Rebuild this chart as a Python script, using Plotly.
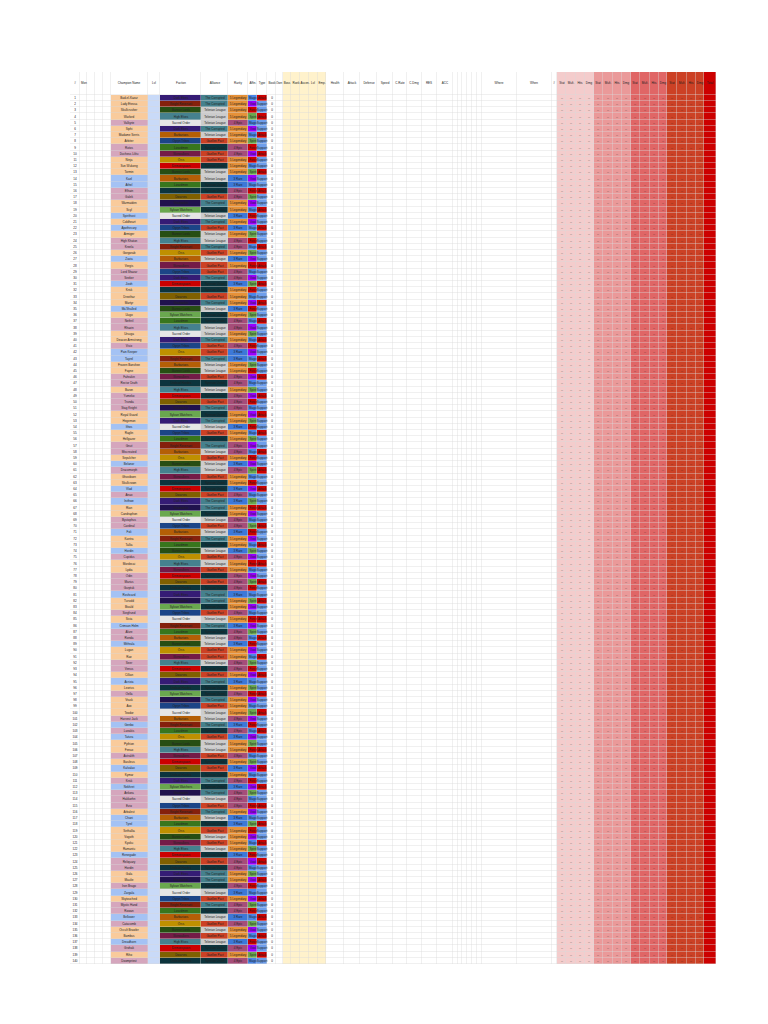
import plotly.graph_objects as go

names = ["Bad-el-Kazar","Lady Etessa","Skullcrusher","Warlord","Valkyrie","Siphi","Madame Serris","Arbiter","Rotos","Duchess Lilitu",
"Ninja","Sun Wukong","Tormin","Kael","Athel","Elhain","Galek","Warmaiden","Scyl","Spirithost",
"Coldheart","Apothecary","Armiger","High Khatun","Kreela","Gorgorab","Zavia","Vergis","Lord Shazar","Seeker",
"Jizoh","Krisk","Drexthar","Martyr","Ma'Shalled","Uugo","Nethril","Rhazin","Ursuga","Deacon Armstrong",
"Visix","Pain Keeper","Tayrel","Frozen Banshee","Fayne","Fahrakin","Rector Drath","Baron","Yumeko","Trunda",
"Stag Knight","Royal Guard","Hegemon","Ithos","Raglin","Hellgazer","Gnut","Miscreated","Sepulcher","Belanor",
"Dracomorph","Ghostborn","Skullcrown","Vlad","Anax","Inithwe","Rian","Candraphon","Bystophus","Cardinal",
"Foli","Kantra","Tallia","Hordin","Cupidus","Mordecai","Lydia","Odin","Marius","Gurptuk",
"Roshcard","Turvold","Bivald","Siegfrund","Sicia","Crimson Helm","Alure","Ronda","Mithrala","Lugan",
"Rae","Seer","Venus","Cillian","Acrizia","Leorius","Oella","Vrask","Aox","Teodor",
"Harvest Jack","Genbo","Lanakis","Tatura","Pythion","Fenax","Astralith","Basileus","Kalvalax","Kymar",
"Krisk","Nekhret","Ankora","Hakkorhn","Ezio","Arbalest","Chani","Tyrel","Sethallia","Vogoth",
"Kyoku","Ramantu","Renegade","Reliquary","Hordin","Gala","Maulie","Iron Brago","Zargala","Skytouched",
"Mystic Hand","Rowan","Bellower","Catacomb","Occult Brawler","Bambus","Dreadhorn","Grohak","Riho","Doompriest",
"Lamasu","Mausoleum","Geomancer","Fortus","Shamael"]
rarity = list("LLLLELLLEELLLRREELLRLRLEELRLEERLLLRLEELLERRLLEELEEELLRLLEELRELLRERLLEERLLRELLEEERLLELREERLLEELRLELLLERERLLELRLEREEELRRLLLLREELLERLEERELLRELE")
faction = [0,1,2,3,4,0,5,6,7,8,9,10,2,5,7,11,12,13,14,4,0,6,2,3,1,9,5,8,6,0,10,11,12,13,2,14,7,3,4,0,6,9,1,5,2,8,11,3,10,12,13,14,0,4,6,7,1,5,9,2,3,8,11,10,12,0,13,14,4,6,5,1,7,2,9,3,8,10,12,11,0,13,14,6,4,1,7,5,2,9,8,3,10,12,0,11,14,13,6,4,5,1,7,9,2,3,8,10,12,11,0,14,13,4,6,1,5,7,9,2,8,3,10,12,11,0,13,14,4,6,1,7,5,9,2,8,3,10,12,11,0,5,2]
affinity = list("MVFSMVMSFVFMSVMFSVMFVMSFMSVFMVSFMVFSMVSMFVMSFVMSVFMVSFMSVMFVSMFVMSFVMSFVMSVFMVSFMSVMFVSMFVMSFVMSFVMSVFMVSFMSVMFVSMFVMSFVMSFVMSVFMVSFMSVMFVSMFVMSFVM")
faction_names = ["Dark Elves","Knight Revenant","Banner Lords","High Elves","Sacred Order","Barbarians","Ogryn Tribes","Lizardmen","Skinwalkers","Orcs","Demonspawn","Undead Hordes","Dwarves","Shadowkin","Sylvan Watchers"]
alliance_of = ["The Corrupted","The Corrupted","Telerian League","Telerian League","Telerian League","Telerian League","Gaellen Pact","Nyresan Union","Gaellen Pact","Gaellen Pact","Nyresan Union","Nyresan Union","Gaellen Pact","The Corrupted","Nyresan Union"]
rarity_names = {"L":"5 Legendary","E":"4 Epic","R":"3 Rare"}
aff_names = {"M":"Magic","V":"Void","F":"Force","S":"Spirit"}
headers = ["#","Mon","","","","Champion Name","Lvl","Faction","Alliance","Rarity","Affin.","Type","Book","Own",
           "Boss","Rank","Ascen.","Lvl","Emp.","Health","Attack","Defense","Speed","C.Rate","C.Dmg","RES","ACC",
           "","","","","","","Where","When","#",
           "Stat","Mult.","Hits","Dmg","Stat","Mult.","Hits","Dmg",
           "Stat","Mult.","Hits","Dmg","Stat","Mult.","Hits","Dmg","Total"]
widths = [10,8,8,8,8,38,13,42,28,20,10,10,9,7,9,9,9,9,9,18,17,17,16,15,15,16,16,5,5,5,5,5,5,36,36,5,
          10,10,9,9,10,10,9,9,10,10,9,9,10,10,9,9,12]

N = min(len(names), len(rarity), len(faction), len(affinity))
rar_col = {"L":"#f9cb9c","E":"#d5a6bd","R":"#a4c2f4"}
rar_fill = {"L":"#e69138","E":"#a64d79","R":"#3c78d8"}
fac_col = ["#351c75","#85200c","#274e13","#45818e","#e6e6e6","#b45f06","#1c4587","#38761d","#741b47","#bf9000","#cc0000","#0c343d","#7f6000","#20124d","#6aa84f"]
ally_col = {"The Corrupted":"#45818e","Telerian League":"#cccccc","Gaellen Pact":"#cc4125","Nyresan Union":"#0c343d"}
aff_col = {"M":"#4a86e8","V":"#9900ff","F":"#cc0000","S":"#6aa84f"}

cols, fills = [], []
def add(vals, fill):
    cols.append(vals); fills.append(fill if isinstance(fill, list) else [fill]*N)

add([str(i+1) for i in range(N)], "#ffffff")
for _ in range(4): add([""]*N, "#ffffff")
add(names[:N], [rar_col[r] for r in rarity[:N]])
add([""]*N, "#c9daf8")
add([faction_names[f] for f in faction[:N]], [fac_col[f] for f in faction[:N]])
add([alliance_of[f] for f in faction[:N]], [ally_col[alliance_of[f]] for f in faction[:N]])
add([rarity_names[r] for r in rarity[:N]], [rar_fill[r] for r in rarity[:N]])
add([aff_names[a] for a in affinity[:N]], [aff_col[a] for a in affinity[:N]])
add(["Support" if i % 3 else "Attack" for i in range(N)], ["#6d9eeb" if i % 3 else "#cc0000" for i in range(N)])
add(["0"]*N, "#ffffff")
add([""]*N, "#ffffff")
for _ in range(5): add([""]*N, "#fff2cc")
for _ in range(8): add([""]*N, "#ffffff")
for _ in range(6): add([""]*N, "#ffffff")
for _ in range(3): add([""]*N, "#ffffff")
for c in ["#f4cccc"]*4 + ["#ea9999"]*4 + ["#e06666"]*4 + ["#cc4125"]*4:
    add(["--"]*N, c)
add([""]*N, "#cc0000")
hdr_fill = ["#ffffff"]*14 + ["#fff2cc"]*5 + ["#ffffff"]*17 + ["#f4cccc"]*4 + ["#ea9999"]*4 + ["#e06666"]*4 + ["#cc4125"]*4 + ["#cc0000"]

palette = sorted(set(c for f in fills for c in f) | set(hdr_fill))
idx = {c: i for i, c in enumerate(palette)}
nc = len(cols)
z = [[idx[hdr_fill[j]] for j in range(nc)]] + [[idx[fills[j][i]] for j in range(nc)] for i in range(N)]
text = [headers] + [[cols[j][i] for j in range(nc)] for i in range(N)]
xb = [0]
for w in widths: xb.append(xb[-1] + w)
yb = [0, 22]
for i in range(N): yb.append(yb[-1] + 6)
P = len(palette)
cs = []
for i, c in enumerate(palette):
    cs.append([i / P, c]); cs.append([(i + 1) / P, c])
fig = go.Figure(go.Heatmap(z=z, x=xb, y=yb, text=text, texttemplate="%{text}",
                           textfont=dict(size=3, family="Liberation Sans", color="#222"),
                           colorscale=cs, zmin=-0.5, zmax=P - 0.5, showscale=False,
                           xgap=0.4, ygap=0.4, hoverinfo="skip"))
fig.update_xaxes(visible=False, range=[0, xb[-1]])
fig.update_yaxes(visible=False, range=[yb[-1], 0])
fig.update_layout(width=768, height=1024, margin=dict(l=62, r=60, t=64, b=68),
                  paper_bgcolor="white", plot_bgcolor="#d9d9d9")
fig.write_html("out.html")
